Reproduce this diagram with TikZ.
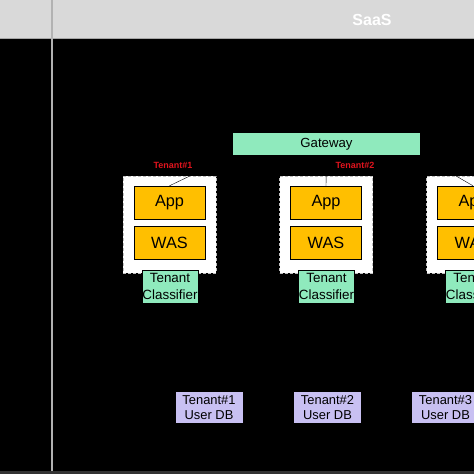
\documentclass[tikz,border=0pt]{standalone}
\usepackage{fontspec}
\setmainfont{Liberation Sans}
\definecolor{hdrgray}{HTML}{D9D9D9}
\definecolor{appyel}{HTML}{FFBF00}
\definecolor{gwgreen}{HTML}{8FEABD}
\definecolor{dblav}{HTML}{C8C0F2}
\definecolor{tred}{HTML}{E0141E}
\tikzset{
  tenantbox/.style={draw=gray!50, densely dashed, fill=white, minimum width=93pt, minimum height=97pt},
  appbox/.style={draw=black, fill=appyel, minimum width=71pt, minimum height=33pt, font=\fontsize{16.3}{18}\selectfont},
  clsbox/.style={draw=black, fill=gwgreen, minimum width=56pt, minimum height=33pt, inner sep=0pt, align=center, font=\fontsize{13.4}{16.5}\selectfont},
  gwbox/.style={fill=gwgreen, minimum width=187pt, minimum height=22pt, font=\fontsize{13.2}{14}\selectfont},
  dbbox/.style={fill=dblav, minimum width=67pt, minimum height=31pt, inner sep=0pt, align=center, font=\fontsize{12.9}{15}\selectfont},
  tlabel/.style={text=tred, font=\bfseries\fontsize{9}{10}\selectfont}
}
\begin{document}
\begin{tikzpicture}[x=1pt,y=-1pt]
\useasboundingbox (0,0) rectangle (474,474);
\clip (0,0) rectangle (474,474);
\fill[black] (0,0) rectangle (474,474);
% header band
\fill[hdrgray] (0,0) rectangle (474,38);
\draw[gray!70, line width=0.8pt] (0,38) -- (474,38);
\draw[gray!60, line width=1.2pt] (52,0) -- (52,471);
\node[text=white, font=\bfseries\fontsize{16}{18}\selectfont] (saas) at (372,20) {SaaS};
\fill[black!80] (0,471) rectangle (474,474);
% gateway
\node[gwbox] (gw) at (326.5,144) {Gateway};
% tenants
\foreach \i/\x in {1/169.5,2/326,3/473} {
  \node[tenantbox] (box\i) at (\x,224.5) {};
  \node[appbox] (app\i) at (\x,202.5) {App};
  \node[appbox] (was\i) at (\x,242.5) {WAS};
  \node[clsbox] (cls\i) at (\x+0.5,286.5) {Tenant\\Classifier};
}
\node[tlabel] (t1) at (173,165.5) {Tenant\#1};
\node[tlabel] (t2) at (355,165.5) {Tenant\#2};
% gateway links (black, only seen on the white boxes)
\draw[black] (gw.south west) -- (app1.north);
\draw[black] (gw.south) -- (app2.north);
\draw[black] (gw.south east) -- (app3.north);
% user databases
\foreach \i/\x in {1/209,2/327.5,3/445.5} {
  \node[dbbox] (db\i) at (\x,407.5) {Tenant\#\i\\User DB};
}
\end{tikzpicture}
\end{document}
